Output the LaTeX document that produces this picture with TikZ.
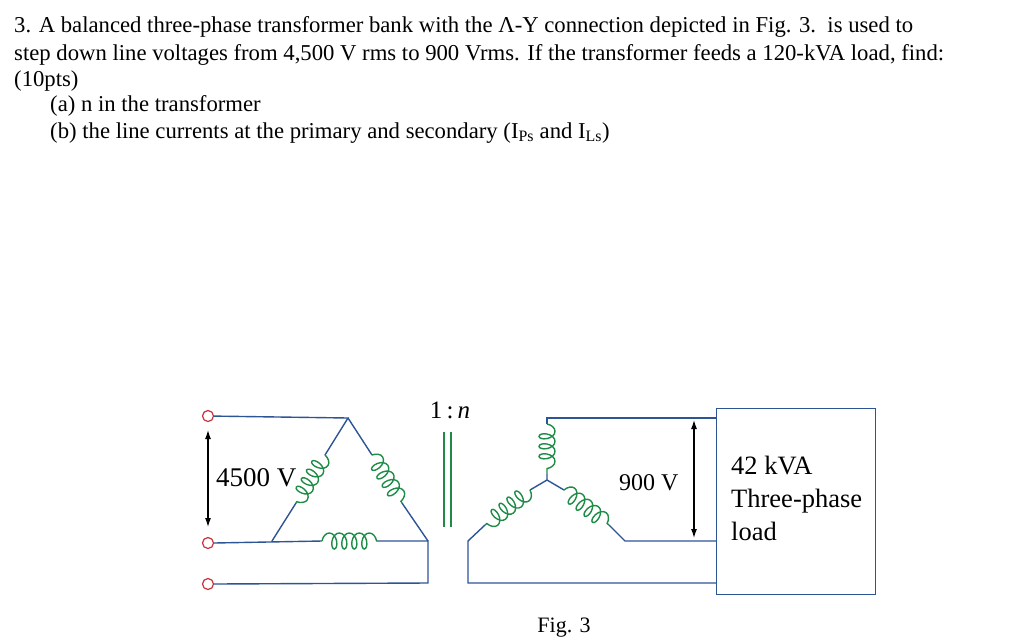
\documentclass[tikz,border=0pt]{standalone}
\usepackage{fontspec}
\setmainfont{Liberation Serif}
\usetikzlibrary{decorations.pathmorphing,arrows.meta}
\definecolor{wire}{RGB}{45,85,150}
\definecolor{coilc}{RGB}{30,140,70}
\definecolor{term}{RGB}{200,50,60}
\tikzset{x=1pt,y=-1pt,
 w/.style={draw=wire,line width=1.4pt},
 cl/.style={draw=coilc,line width=1.4pt,decorate,decoration={coil,aspect=0.6,segment length=10pt,amplitude=8pt}},
 tm/.style={circle,draw=term,line width=1.2pt,minimum size=11pt,inner sep=0pt,fill=white},
 va/.style={draw=black,line width=1.2pt,{Latex[length=9pt,width=6pt]}-{Latex[length=9pt,width=6pt]}},
 tx/.style={anchor=base west,inner sep=0pt,font=\fontsize{22.7}{24}\selectfont}}
\begin{document}
\begin{tikzpicture}
\useasboundingbox (0,0) rectangle (1024,640);
\node[tx] (l1) at (14,32) {3. A balanced three-phase transformer bank with the Λ-Y connection depicted in Fig. 3.\ \ is used to};
\node[tx] (l2) at (14,60) {step down line voltages from 4,500 V rms to 900 Vrms. If the transformer feeds a 120-kVA load, find:};
\node[tx] (l3) at (14,86) {(10pts)};
\node[tx] (l4) at (50,111) {(a) n in the transformer};
\node[tx] (l5) at (50,138) {(b) the line currents at the primary and secondary (I\textsubscript{Ps} and I\textsubscript{Ls})};
% primary delta
\coordinate (A) at (348,418); \coordinate (B) at (272,541); \coordinate (C) at (428,541);
\node[tm] (t1) at (208,416) {};
\node[tm] (t2) at (208,543) {};
\node[tm] (t3) at (208,584) {};
\coordinate (c1a) at (325,455); \coordinate (c1b) at (296,503);
\coordinate (c2a) at (372,455); \coordinate (c2b) at (402,503);
\coordinate (c3a) at (322,541); \coordinate (c3b) at (377,541);
\coordinate (D) at (428,583);
\draw[w] (t1) -- (A) -- (c1a); \draw[cl] (c1a) -- (c1b); \draw[w] (c1b) -- (B);
\draw[w] (A) -- (c2a); \draw[cl] (c2a) -- (c2b); \draw[w] (c2b) -- (C);
\draw[w] (t2.east) -- (c3a); \draw[cl] (c3a) -- (c3b); \draw[w] (c3b) -- (C) -- (D) -- (t3.east);
\draw[va] (208,430) -- (208,527);
\node[anchor=base west,inner sep=0pt,font=\fontsize{27}{24}\selectfont] (v1) at (216,486) {4500 V};
% core
\draw[coilc,line width=1.2pt] (444,432) -- (444,527) (451,432) -- (451,527);
\node[font=\fontsize{25}{24}\selectfont] (ratio) at (450,410) {1\,:\,\textit{n}};
% secondary wye
\coordinate (N) at (547,480);
\coordinate (P) at (547,418); \coordinate (Q) at (468,541); \coordinate (R) at (625,541);
\node[draw=wire,line width=1.4pt,minimum width=159pt,minimum height=186pt,anchor=north west,inner sep=0pt] (load) at (716,408) {};
\draw[w] (load.west |- P) -- (P) -- (547,424);
\draw[cl] (547,424) -- (547,474);
\draw[w] (547,474) -- (N) -- (564,490);
\draw[w] (N) -- (530,490);
\draw[cl] (530,490) -- (485,525);
\draw[w] (485,525) -- (Q) -- (468,583) -- (load.west |- 0,583);
\draw[cl] (564,490) -- (609,525);
\draw[w] (609,525) -- (R) -- (load.west |- R);
\draw[va] (694,420) -- (694,538);
\node[anchor=base west,inner sep=0pt,font=\fontsize{24}{24}\selectfont] (v2) at (619,490) {900 V};
\node[anchor=north west,align=left,inner sep=0pt,font=\fontsize{26.5}{33}\selectfont] (lt) at (731,456) {42 kVA\\Three-phase\\load};
\node[anchor=base,inner sep=0pt,font=\fontsize{22}{24}\selectfont] (fig) at (564,632) {Fig. 3};
\end{tikzpicture}
\end{document}
